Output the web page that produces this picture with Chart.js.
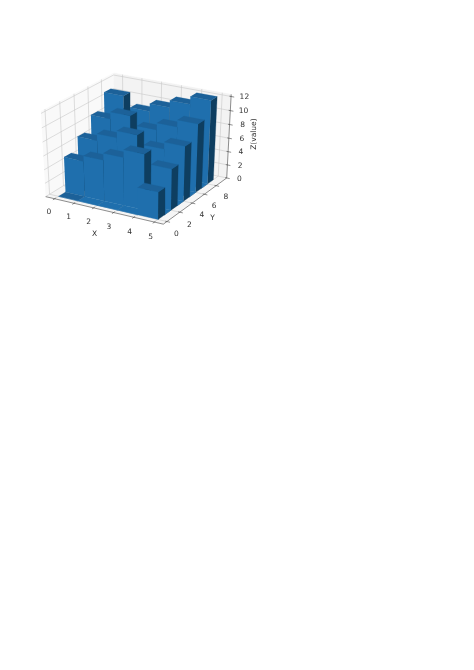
<!DOCTYPE html>
<html lang="en">

<head>
    <meta charset="UTF-8">
    <title>3D bars</title>
    <script src="https://cdn.jsdelivr.net/npm/chart.js"></script>
    <style>
        html, body { margin: 0; padding: 0; background: #fff; }
        canvas { display: block; }
    </style>
</head>

<body>
    <canvas id="bars3d" width="474" height="670"></canvas>
    <script>
        // bar heights, one list per y position, flat cells are 0
        const xValues = [0, 1, 2, 3, 4];
        const yValues = [0, 1, 2, 3, 4, 5, 6, 7, 8];
        const zAtY0 = [0, 0, 0, 0, 4];
        const zAtY1 = [5.2, 6, 7, 8.1, 0];
        const zAtY2 = [0, 0, 0, 5, 6];
        const zAtY3 = [7, 8, 9, 0, 0];
        const zAtY4 = [0, 0, 6, 7, 8];
        const zAtY5 = [9, 10, 0, 0, 0];
        const zAtY6 = [0, 7, 8, 9, 10];
        const zAtY7 = [11.2, 0, 0, 0, 0];
        const zAtY8 = [8, 9, 10.1, 11.1, 12.2];
        const zRows = [zAtY0, zAtY1, zAtY2, zAtY3, zAtY4, zAtY5, zAtY6, zAtY7, zAtY8];

        const xTicks = [0, 1, 2, 3, 4, 5];
        const yTicks = [0, 2, 4, 6, 8];
        const zTicks = [0, 2, 4, 6, 8, 10, 12];

        const xLim = [-0.47, 5.43], yLim = [-0.55, 9.85], zLim = [0, 12.3];
        const barDepth = 1, barWidth = 1;

        // same projection as mplot3d, elev 30 azim -60 dist 10
        function project(x, y, z) {
            const X = (x - xLim[0]) / (xLim[1] - xLim[0]) - 0.5;
            const Y = (y - yLim[0]) / (yLim[1] - yLim[0]) - 0.5;
            const Z = (z - zLim[0]) / (zLim[1] - zLim[0]) - 0.5;
            const u = 0.866 * X + 0.5 * Y;
            const v = -0.25 * X + 0.433 * Y + 0.866 * Z;
            const d = 0.433 * X - 0.75 * Y + 0.5 * Z;
            const f = 10 / (10 - d);
            return { x: u * f, y: v * f };
        }

        const datasets = [];

        function addShape(corners, fillColor) {
            datasets.push({
                data: corners.map(c => project(c[0], c[1], c[2])),
                showLine: true, fill: 'shape', backgroundColor: fillColor,
                borderColor: fillColor, borderWidth: 0.3, pointRadius: 0, tension: 0, clip: false
            });
        }

        function addLine(a, b, color, width) {
            datasets.push({
                data: [project(a[0], a[1], a[2]), project(b[0], b[1], b[2])],
                showLine: true, fill: false, borderColor: color, borderWidth: width,
                pointRadius: 0, tension: 0, clip: false
            });
        }

        const [x0, x1] = xLim, [y0, y1] = yLim, [z0, z1] = zLim;

        // panes
        addShape([[x0, y0, z0], [x0, y1, z0], [x0, y1, z1], [x0, y0, z1]], '#f9f9f9');
        addShape([[x0, y1, z0], [x1, y1, z0], [x1, y1, z1], [x0, y1, z1]], '#f3f3f3');
        addShape([[x0, y0, z0], [x1, y0, z0], [x1, y1, z0], [x0, y1, z0]], '#f5f5f5');

        // grid
        const gridColor = '#c8c8c8';
        xTicks.forEach(t => {
            addLine([t, y0, z0], [t, y1, z0], gridColor, 0.6);
            addLine([t, y1, z0], [t, y1, z1], gridColor, 0.6);
        });
        yTicks.forEach(t => {
            addLine([x0, t, z0], [x1, t, z0], gridColor, 0.6);
            addLine([x0, t, z0], [x0, t, z1], gridColor, 0.6);
        });
        zTicks.forEach(t => {
            addLine([x0, y0, t], [x0, y1, t], gridColor, 0.6);
            addLine([x0, y1, t], [x1, y1, t], gridColor, 0.6);
        });

        // axis lines and tick marks
        const axisColor = '#444444';
        addLine([x0, y0, z0], [x1, y0, z0], axisColor, 0.6);
        addLine([x1, y0, z0], [x1, y1, z0], axisColor, 0.6);
        addLine([x1, y1, z0], [x1, y1, z1], axisColor, 0.6);
        xTicks.forEach(t => addLine([t, y0 - 0.25, z0], [t, y0 + 0.15, z0], axisColor, 0.6));
        yTicks.forEach(t => addLine([x1 + 0.15, t, z0], [x1 - 0.08, t, z0], axisColor, 0.6));
        zTicks.forEach(t => addLine([x1 + 0.15, y1, t], [x1 - 0.08, y1, t], axisColor, 0.6));

        // bars, far row first so nearer ones paint over
        const topColor = '#1c6199', frontColor = '#1f6fad', sideColor = '#0e3e60';
        for (let r = yValues.length - 1; r >= 0; r--) {
            xValues.forEach((x, i) => {
                const y = yValues[r], z = zRows[r][i];
                const xe = x + barWidth, ye = y + barDepth;
                addShape([[x, y, 0], [xe, y, 0], [xe, y, z], [x, y, z]], frontColor);
                addShape([[xe, y, 0], [xe, ye, 0], [xe, ye, z], [xe, y, z]], sideColor);
                // the flat cells read as front colour in the picture, only the first corner is darker
                const lid = z === 0 && !(r === 0 && i === 0) ? frontColor : topColor;
                addShape([[x, y, z], [xe, y, z], [xe, ye, z], [x, ye, z]], lid);
            });
        }

        // line controller paints low order on top
        datasets.forEach((d, i) => { d.order = datasets.length - i; });

        const labelsPlugin = {
            id: 'axisLabels',
            afterDraw(chart) {
                const ctx = chart.ctx;
                const sx = chart.scales.x, sy = chart.scales.y;
                const put = (text, p, rotate) => {
                    ctx.save();
                    ctx.translate(sx.getPixelForValue(p.x), sy.getPixelForValue(p.y));
                    if (rotate) ctx.rotate(rotate);
                    ctx.fillText(text, 0, 0);
                    ctx.restore();
                };
                ctx.save();
                ctx.font = '7.5px "DejaVu Sans"';
                ctx.fillStyle = '#333333';
                ctx.textAlign = 'center';
                ctx.textBaseline = 'middle';
                xTicks.forEach(t => put(String(t), project(t + 0.6, y0 - 2.43, z0)));
                yTicks.forEach(t => put(String(t), project(x1 + 0.97, t - 1.68, z0)));
                zTicks.forEach(t => put(String(t), project(x1 + 0.54, y1 + 0.35, t)));
                put('X', project(3.43, y0 - 3.98, z0));
                put('Y', project(x1 + 1.49, 2.3, z0));
                put('Z(value)', project(x1 + 1.03, y1 + 0.7, 6.8), -Math.PI / 2);
                ctx.restore();
            }
        };

        const config = {
            type: 'scatter',
            data: { datasets: datasets },
            options: {
                responsive: false,
                animation: false,
                layout: { padding: 0 },
                plugins: { legend: { display: false }, tooltip: { enabled: false } },
                scales: {
                    x: { type: 'linear', display: false, min: -1.013, max: 2.477 },
                    y: { type: 'linear', display: false, min: -5.374, max: 1.497 }
                }
            },
            plugins: [labelsPlugin]
        };

        new Chart(document.querySelector('#bars3d').getContext('2d'), config);
    </script>
</body>

</html>
